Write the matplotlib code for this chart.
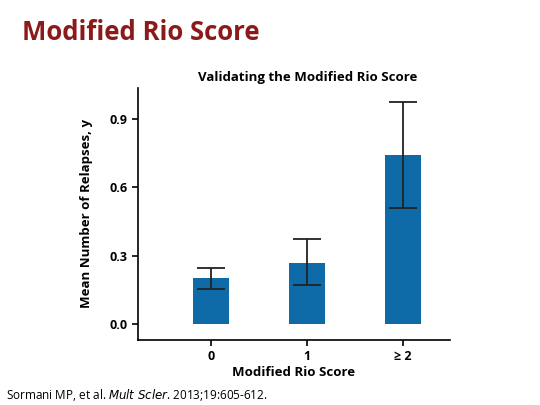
import matplotlib
matplotlib.use("Agg")
import matplotlib.pyplot as plt

categories = ["0", "1", "≥ 2"]
means = [0.20, 0.27, 0.74]
lower = [0.155, 0.17, 0.51]
upper = [0.245, 0.375, 0.975]
yticks = [0.0, 0.3, 0.6, 0.9]

plt.rcParams['font.family'] = ['Open Sans', 'DejaVu Sans']
fig = plt.figure(figsize=(5.4, 4.05), dpi=100)
ax = fig.add_axes([138/540, 1-340/405, (450-138)/540, (340-88)/405])
x = list(range(len(categories)))
err = [[m-l for m, l in zip(means, lower)], [u-m for m, u in zip(means, upper)]]
ax.bar(x, means, width=0.375, color="#0E6BA8", yerr=err, capsize=10,
       error_kw=dict(ecolor="#222222", elinewidth=1.3, capthick=1.3))
ax.set_xlim(-0.76, 2.49)
ax.set_ylim(-0.07, 1.036)
ax.set_yticks(yticks)
ax.set_yticklabels([f"{v:.1f}" for v in yticks], fontweight="bold", fontsize=9)
ax.set_xticks(x)
ax.set_xticklabels(categories, fontweight="bold", fontsize=9)
for s in ["top", "right"]:
    ax.spines[s].set_visible(False)
ax.spines["left"].set_linewidth(1.2)
ax.spines["bottom"].set_linewidth(1.2)
ax.tick_params(direction="out", width=1.2, length=4)
ax.set_xlabel("Modified Rio Score", fontweight="bold", fontsize=9.5, labelpad=2)
ax.set_ylabel("Mean Number of Relapses, y", fontweight="bold", fontsize=9.5, labelpad=12)
fig.text(308/540, 1-77/405, "Validating the Modified Rio Score", ha="center", va="center",
         fontweight="bold", fontsize=9.5)
fig.text(22/540, 1-32/405, "Modified Rio Score", ha="left", va="center",
         fontweight="bold", fontsize=18.5, color="#8B1A1A")
fig.text(6/540, 1-395/405, "Sormani MP, et al. $\\it{Mult\\ Scler}$. 2013;19:605-612.",
         ha="left", va="center", fontsize=8.5)
fig.savefig("out.png", dpi=100)
